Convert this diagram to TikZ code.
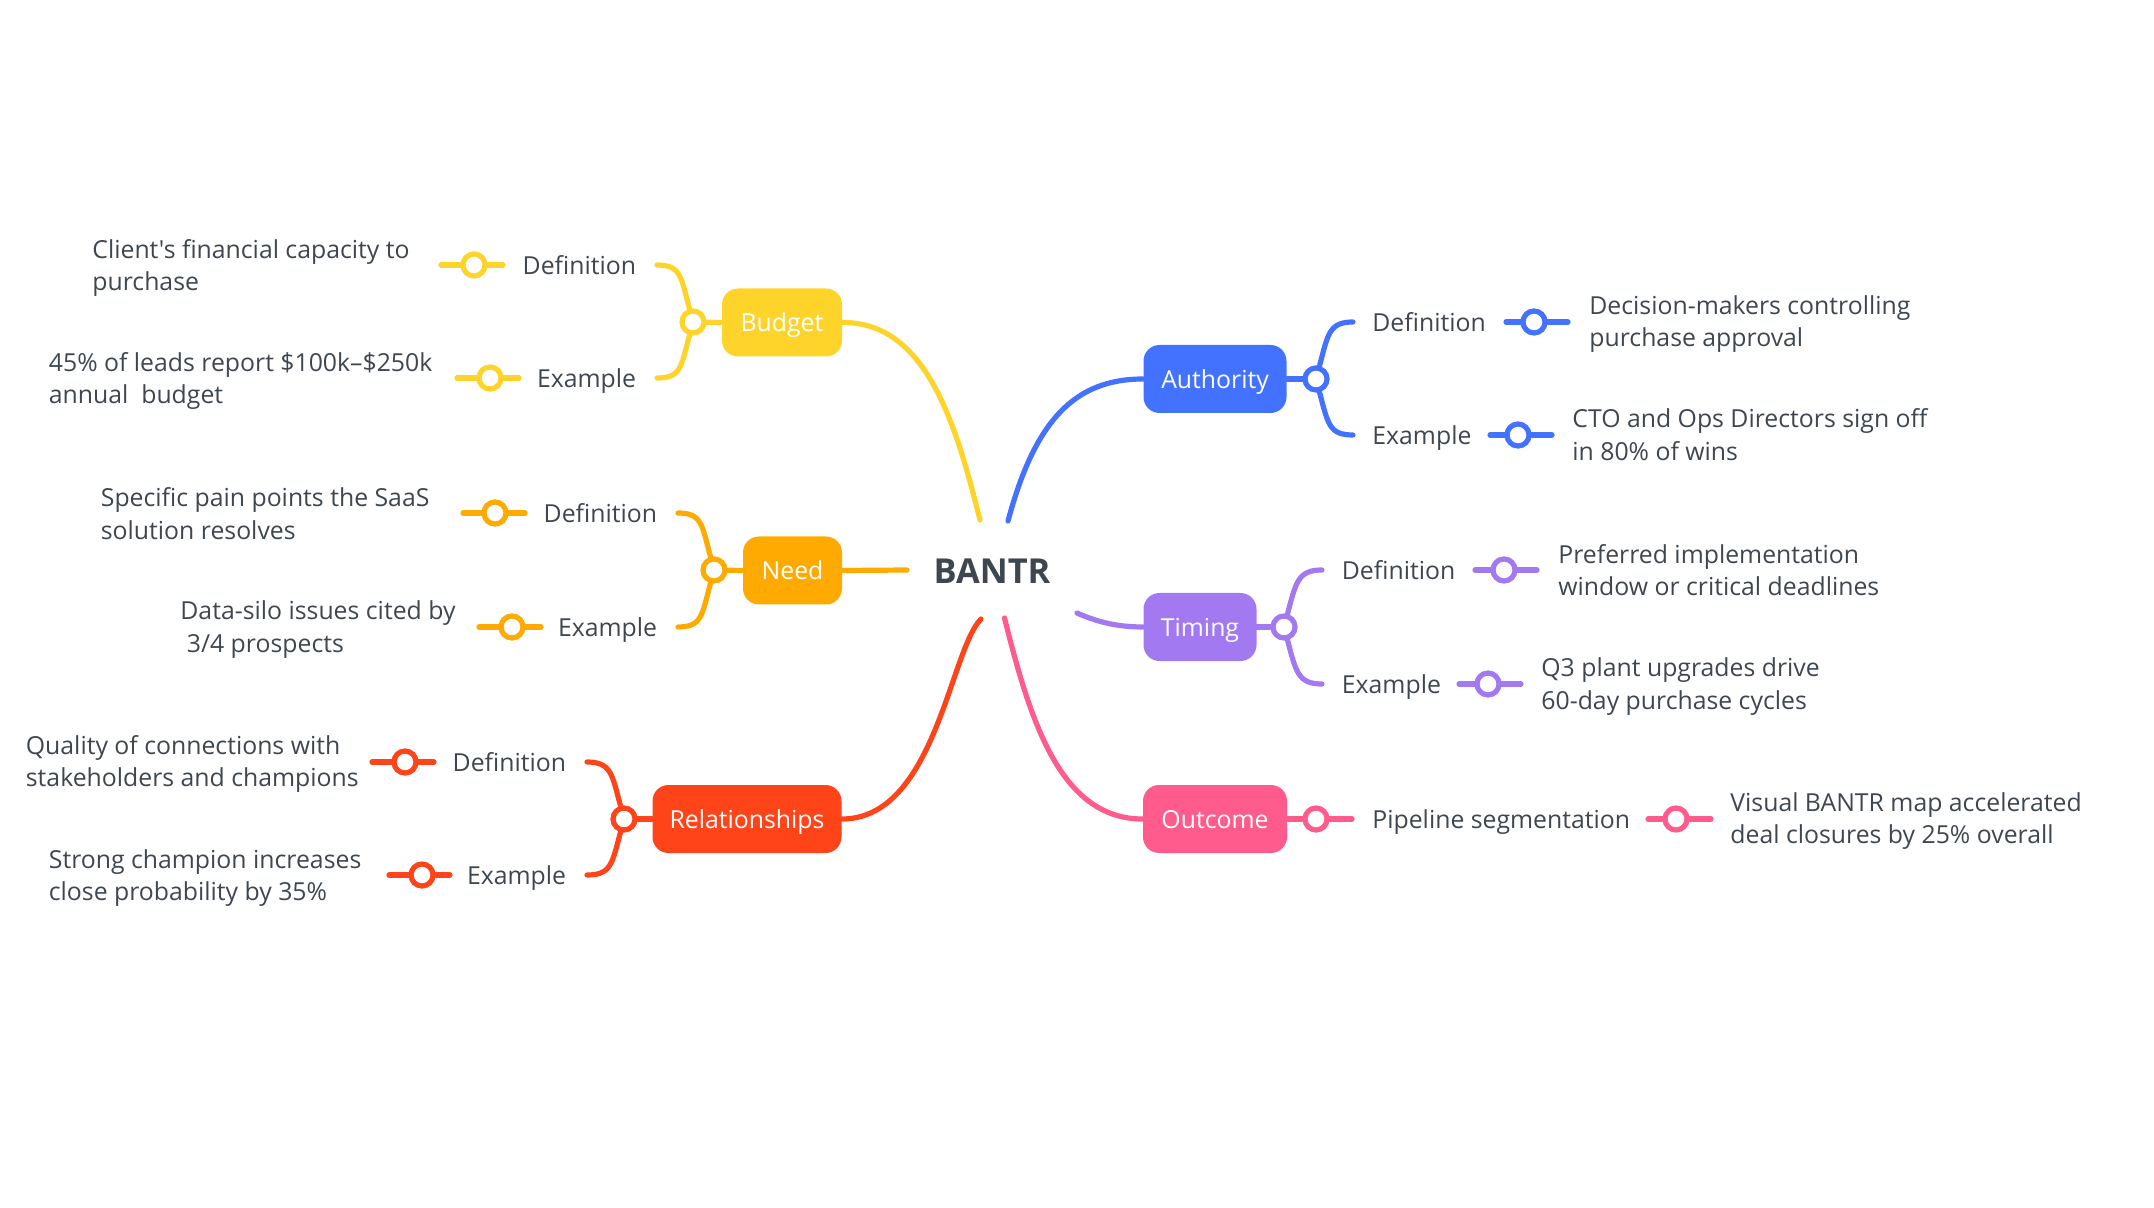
\documentclass[tikz,border=0pt]{standalone}
\usepackage{fontspec}
\setmainfont[Ligatures=TeXOff]{Open Sans}
\usetikzlibrary{backgrounds}
\definecolor{ink}{HTML}{3E474F}
\definecolor{cB}{HTML}{FFD42A}
\definecolor{cN}{HTML}{FFAA00}
\definecolor{cR}{HTML}{FF4419}
\definecolor{cA}{HTML}{4272FF}
\definecolor{cT}{HTML}{A279F0}
\definecolor{cO}{HTML}{FF5C8D}
\newcommand{\lineprop}{\rule[-2.6pt]{0pt}{14.6pt}}
\tikzset{
  x=0.5pt,y=-0.5pt,
  txt/.style={font=\fontsize{12.4pt}{16.35pt}\selectfont,text=ink,inner sep=0pt,align=left,
    execute at begin node=\lineprop,execute at end node=\lineprop},
  leaf/.style={txt,anchor=west},
  lab/.style={txt},
  topic/.style={rounded corners=8pt,fill=#1,text=white,inner sep=0pt,font=\fontsize{12.4pt}{16pt}\selectfont,minimum height=34pt,
    execute at begin node=\lineprop},
  hub/.style={circle,draw=#1,fill=white,line width=2.6pt,minimum size=11pt,inner sep=0pt},
  wire/.style={draw=#1,line width=2.6pt,line cap=round},
}
\begin{document}
\begin{tikzpicture}
\useasboundingbox (0,0) rectangle (2154,1208);
\node[font=\fontsize{17.2pt}{22pt}\bfseries\selectfont,text=ink,inner sep=0pt,text height=12.5pt,text depth=0pt] (root) at (992,571) {BANTR};

% free ends of the main branches
\coordinate (eB) at (980,520);
\coordinate (eN) at (907,570);
\coordinate (eR) at (981,619);
\coordinate (eA) at (1008,521);
\coordinate (eT) at (1077,613);
\coordinate (eO) at (1004.5,618);

% topic boxes
\node[topic=cB,minimum width=60pt] (Budget) at (782,322.5) {Budget};
\node[topic=cN,minimum width=49.5pt] (Need) at (792.5,570.5) {Need};
\node[topic=cR,minimum width=94.5pt] (Relationships) at (747,819) {Relationships};
\node[topic=cA,minimum width=71.5pt] (Authority) at (1215,379) {Authority};
\node[topic=cT,minimum width=56.5pt] (Timing) at (1200,627) {Timing};
\node[topic=cO,minimum width=72pt] (Outcome) at (1215,819) {Outcome};

% hubs
\node[hub=cB] (hB) at (693,322) {};
\node[hub=cN] (hN) at (714,570) {};
\node[hub=cR] (hR) at (624,819) {};
\node[hub=cA] (hA) at (1316,379) {};
\node[hub=cT] (hT) at (1284,627) {};
\node[hub=cO] (hO) at (1316,819) {};

% second-level labels
\node[lab,anchor=east] (BD) at (636.5,265) {Definition};
\node[lab,anchor=east] (BE) at (636.5,378) {Example};
\node[lab,anchor=east] (ND) at (657.5,513) {Definition};
\node[lab,anchor=east] (NE) at (657.5,627) {Example};
\node[lab,anchor=east] (RD) at (566.5,762) {Definition};
\node[lab,anchor=east] (RE) at (566.5,875) {Example};
\node[lab,anchor=west] (AD) at (1372,322) {Definition};
\node[lab,anchor=west] (AE) at (1372,435) {Example};
\node[lab,anchor=west] (TD) at (1341.5,570) {Definition};
\node[lab,anchor=west] (TE) at (1341.5,684) {Example};
\node[lab,anchor=west] (OP) at (1372,819) {Pipeline segmentation};

% branch ends beside the labels
\coordinate (aBD) at (657,265); \coordinate (aBE) at (657,378);
\coordinate (aND) at (678,513); \coordinate (aNE) at (678,627);
\coordinate (aRD) at (587,762); \coordinate (aRE) at (587,875);
\coordinate (aAD) at (1353,322); \coordinate (aAE) at (1353,435);
\coordinate (aTD) at (1322,570); \coordinate (aTE) at (1322,684);
\coordinate (aOP) at (1352,819);

% leaf dots and stub ends
\node[hub=cB] (dBD) at (474,265) {}; \coordinate (lBD) at (441,265); \coordinate (rBD) at (503,265);
\node[hub=cB] (dBE) at (490,378) {}; \coordinate (lBE) at (457,378); \coordinate (rBE) at (519,378);
\node[hub=cN] (dND) at (495,513) {}; \coordinate (lND) at (463,513); \coordinate (rND) at (525,513);
\node[hub=cN] (dNE) at (512,627) {}; \coordinate (lNE) at (479,627); \coordinate (rNE) at (541,627);
\node[hub=cR] (dRD) at (405,762) {}; \coordinate (lRD) at (372,762); \coordinate (rRD) at (434,762);
\node[hub=cR] (dRE) at (422,875) {}; \coordinate (lRE) at (389,875); \coordinate (rRE) at (450,875);
\node[hub=cA] (dAD) at (1534,322) {}; \coordinate (lAD) at (1506,322); \coordinate (rAD) at (1568,322);
\node[hub=cA] (dAE) at (1518,435) {}; \coordinate (lAE) at (1490,435); \coordinate (rAE) at (1552,435);
\node[hub=cT] (dTD) at (1504,570) {}; \coordinate (lTD) at (1475,570); \coordinate (rTD) at (1537,570);
\node[hub=cT] (dTE) at (1488,684) {}; \coordinate (lTE) at (1459,684); \coordinate (rTE) at (1521,684);
\node[hub=cO] (dOP) at (1676,819) {}; \coordinate (lOP) at (1648,819); \coordinate (rOP) at (1711,819);

% leaf texts
\node[leaf] (tBD) at (92,268) {Client's financial capacity to\\purchase};
\node[leaf] (tBE) at (48.5,381) {45\% of leads report \$100k–\$250k\\annual\ \ budget};
\node[leaf] (tND) at (100.5,516) {Specific pain points the SaaS\\solution resolves};
\node[leaf] (tNE) at (180,629.5) {Data-silo issues cited by\\\ 3/4 prospects};
\node[leaf] (tRD) at (25.5,764) {Quality of connections with\\stakeholders and champions};
\node[leaf] (tRE) at (48.5,878) {Strong champion increases\\close probability by 35\%};
\node[leaf] (tAD) at (1589,324) {Decision-makers controlling\\purchase approval};
\node[leaf] (tAE) at (1572,437) {CTO and Ops Directors sign off\\in 80\% of wins};
\node[leaf] (tTD) at (1558,572.5) {Preferred implementation\\window or critical deadlines};
\node[leaf] (tTE) at (1541,686.5) {Q3 plant upgrades drive\\60-day purchase cycles};
\node[leaf] (tOP) at (1730,821) {Visual BANTR map accelerated\\deal closures by 25\% overall};

\begin{scope}[on background layer]
% main branches
\path[wire=cB] (Budget.east) .. controls (925,322) and (955,420) .. (eB);
\path[wire=cN] (Need.east) -- (eN);
\path[wire=cR] (Relationships.east) .. controls (935,819) and (950,650) .. (eR);
\path[wire=cA] (Authority.west) .. controls (1075,379) and (1035,420) .. (eA);
\path[wire=cT] (Timing.west) .. controls (1115,627) and (1095,621) .. (eT);
\path[wire=cO] (Outcome.west) .. controls (1060,819) and (1030,720) .. (eO);
% box to hub
\path[wire=cB] (Budget.west) -- (hB);
\path[wire=cN] (Need.west) -- (hN);
\path[wire=cR] (Relationships.west) -- (hR);
\path[wire=cA] (Authority.east) -- (hA);
\path[wire=cT] (Timing.east) -- (hT);
\path[wire=cO] (Outcome.east) -- (hO);
% hub arms
\path[wire=cB] (aBD) .. controls +(24,0) and +(-12,-45) .. (hB);
\path[wire=cB] (aBE) .. controls +(24,0) and +(-12,45) .. (hB);
\path[wire=cN] (aND) .. controls +(24,0) and +(-12,-45) .. (hN);
\path[wire=cN] (aNE) .. controls +(24,0) and +(-12,45) .. (hN);
\path[wire=cR] (aRD) .. controls +(24,0) and +(-12,-45) .. (hR);
\path[wire=cR] (aRE) .. controls +(24,0) and +(-12,45) .. (hR);
\path[wire=cA] (aAD) .. controls +(-24,0) and +(12,-45) .. (hA);
\path[wire=cA] (aAE) .. controls +(-24,0) and +(12,45) .. (hA);
\path[wire=cT] (aTD) .. controls +(-24,0) and +(12,-45) .. (hT);
\path[wire=cT] (aTE) .. controls +(-24,0) and +(12,45) .. (hT);
\path[wire=cO] (aOP) -- (hO);
% stubs through the leaf dots
\path[wire=cB] (lBD) -- (rBD);
\path[wire=cB] (lBE) -- (rBE);
\path[wire=cN] (lND) -- (rND);
\path[wire=cN] (lNE) -- (rNE);
\path[wire=cR] (lRD) -- (rRD);
\path[wire=cR] (lRE) -- (rRE);
\path[wire=cA] (lAD) -- (rAD);
\path[wire=cA] (lAE) -- (rAE);
\path[wire=cT] (lTD) -- (rTD);
\path[wire=cT] (lTE) -- (rTE);
\path[wire=cO] (lOP) -- (rOP);
\end{scope}
\end{tikzpicture}
\end{document}
